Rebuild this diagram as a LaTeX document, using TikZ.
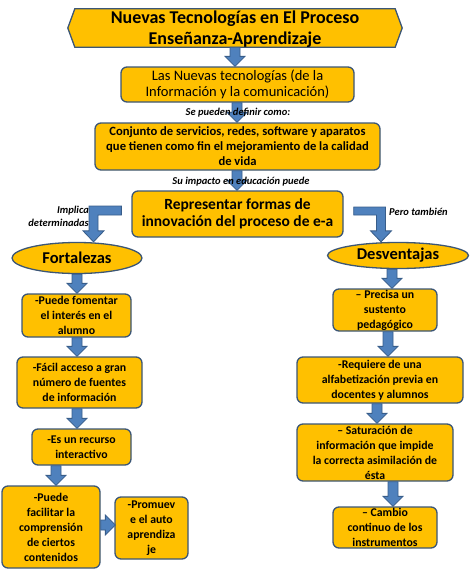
\documentclass[tikz,border=0pt]{standalone}
\usepackage{fontspec}
\setmainfont{Carlito}
\usetikzlibrary{shapes.geometric,calc}
\definecolor{boxfill}{HTML}{FFC000}
\definecolor{boxline}{HTML}{3B5676}
\definecolor{arrfill}{HTML}{4F81BD}
\definecolor{arrline}{HTML}{385D8A}
\tikzset{
  box/.style={rectangle, rounded corners=6pt, fill=boxfill, draw=boxline, line width=1.3pt, align=center, inner sep=0pt},
  oval/.style={ellipse, fill=boxfill, draw=boxline, line width=1.3pt, inner sep=0pt, font=\fontsize{16.5}{18}\selectfont\bfseries},
  small/.style={font=\fontsize{11.8}{15}\selectfont\bfseries},
  lbl/.style={font=\fontsize{10.5}{13}\selectfont\bfseries\itshape, inner sep=0pt, align=right},
  barrow/.style={fill=arrfill, draw=arrline, line width=0.8pt, line join=miter}
}
\newcommand{\varr}[3]{\filldraw[barrow] let \p1=(#2.south), \p2=(#3.north) in
 (#1pt-5pt,\y1) -- (#1pt+5pt,\y1) -- (#1pt+5pt,\y2+10pt) -- (#1pt+10pt,\y2+10pt) -- (#1pt,\y2) -- (#1pt-10pt,\y2+10pt) -- (#1pt-5pt,\y2+10pt) -- cycle;}
\begin{document}
\begin{tikzpicture}[x=1pt,y=1pt]
\useasboundingbox (0,0) rectangle (474,-571);
% title
\node[inner sep=0pt, minimum width=320pt, minimum height=38pt] (title) at (235,-28) {};
\filldraw[fill=boxfill, draw=boxline, line width=1.3pt]
  (title.north west) -- (title.north east) -- ([xshift=7pt]title.east) -- (title.south east)
  -- (title.south west) -- ([xshift=-7pt]title.west) -- cycle;
\node[align=center, inner sep=0pt, font=\fontsize{18}{21}\selectfont\bfseries] (titletext) at (235,-29)
  {Nuevas Tecnologías en El Proceso\\Enseñanza-Aprendizaje};
% main column
\node[box, minimum width=233pt, minimum height=35pt, font=\fontsize{14.5}{16.5}\selectfont] (nt) at (237.5,-84.5)
  {Las Nuevas tecnologías (de la\\Información y la comunicación)};
\node[box, minimum width=285pt, minimum height=47pt, font=\fontsize{12.6}{15}\selectfont\bfseries] (conj) at (237.5,-146.5)
  {Conjunto de servicios, redes, software y aparatos\\que tienen como fin el mejoramiento de la calidad\\de vida};
\node[box, minimum width=211pt, minimum height=46pt, font=\fontsize{15.5}{17.5}\selectfont\bfseries] (rep) at (237.5,-214)
  {Representar formas de\\innovación del proceso de e-a};
\node[oval, minimum width=130pt, minimum height=31pt] (fort) at (77,-258) {Fortalezas};
\node[oval, minimum width=141pt, minimum height=26pt] (desv) at (398,-255.5) {Desventajas};
% left column
\node[box, small, minimum width=109pt, minimum height=43pt] (l1) at (76.5,-315.5) {-Puede fomentar\\el interés en el\\alumno};
\node[box, small, minimum width=125pt, minimum height=51pt] (l2) at (79.5,-382.5) {-Fácil acceso a gran\\número de fuentes\\de información};
\node[box, small, minimum width=99pt, minimum height=36pt] (l3) at (81.5,-447) {-Es un recurso\\interactivo};
\node[box, small, minimum width=98pt, minimum height=82pt] (l4) at (51,-527) {-Puede\\facilitar la\\comprensión\\de ciertos\\contenidos};
\node[box, small, minimum width=73pt, minimum height=62pt] (l5) at (151.5,-528) {-Promuev\\e el auto\\aprendiza\\je};
% right column
\node[box, small, minimum width=104pt, minimum height=42pt] (r1) at (385,-310) {– Precisa un\\sustento\\pedagógico};
\node[box, small, minimum width=166pt, minimum height=46pt] (r2) at (380,-380) {-Requiere de una\\alfabetización previa en\\docentes y alumnos};
\node[box, small, minimum width=156pt, minimum height=57pt] (r3) at (375,-452.5) {– Saturación de\\información que impide\\la correcta asimilación de\\ésta};
\node[box, small, minimum width=104pt, minimum height=41pt] (r4) at (385,-527.5) {– Cambio\\continuo de los\\instrumentos};
% side labels (under arrows)
\node[lbl, anchor=east] (impl) at (89,-216) {Implica\\determinadas};
\node[lbl, anchor=west] (pero) at (389,-212) {Pero también};
% vertical block arrows
\varr{235}{title}{nt}
\varr{237}{nt}{conj}
\varr{237}{conj}{rep}
\varr{77}{fort}{l1}
\varr{77}{l1}{l2}
\varr{77}{l2}{l3}
\varr{56}{l3}{l4}
\varr{392}{desv}{r1}
\varr{388}{r1}{r2}
\varr{377}{r2}{r3}
\varr{393}{r3}{r4}
% horizontal arrow l4 -> l5
\filldraw[barrow] let \p1=(l4.east), \p2=(l5.west) in
 (\x1,-520pt) -- (\x2-9pt,-520pt) -- (\x2-9pt,-515pt) -- (\x2+1pt,-525pt) -- (\x2-9pt,-535pt) -- (\x2-9pt,-530pt) -- (\x1,-530pt) -- cycle;
% bent arrows from rep
\filldraw[barrow] let \p1=(rep.west), \p2=(fort.north) in
 (\x1-10pt,\y1+8pt) -- (89pt,\y1+8pt) -- (89pt,\y2+11pt) -- (83pt,\y2+11pt) -- (93.5pt,\y2) -- (104pt,\y2+11pt) -- (98pt,\y2+11pt) -- (98pt,\y1-1pt) -- (\x1-10pt,\y1-1pt) -- cycle;
\filldraw[barrow] let \p1=(rep.east), \p2=(desv.north) in
 (\x1+10pt,\y1+7pt) -- (385.5pt,\y1+7pt) -- (385.5pt,\y2+11pt) -- (391.5pt,\y2+11pt) -- (381pt,\y2) -- (370.5pt,\y2+11pt) -- (376.5pt,\y2+11pt) -- (376.5pt,\y1-1pt) -- (\x1+10pt,\y1-1pt) -- cycle;
% labels over arrows
\node[lbl] (sepue) at (238,-113) {Se pueden definir como:};
\node[lbl] (suimp) at (241,-182) {Su impacto en educación puede};
\end{tikzpicture}
\end{document}
